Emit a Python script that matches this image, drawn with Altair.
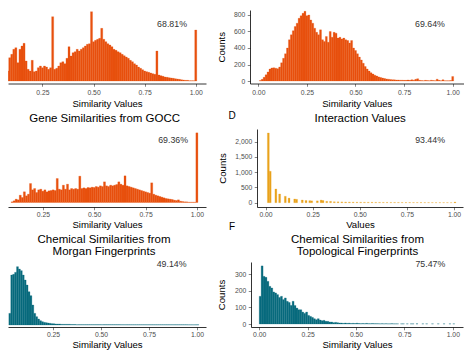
import altair as alt
import numpy as np
import pandas as pd

FONT = "Liberation Sans"
RED = "#E8500E"
GOLD = "#E9A21B"
TEAL = "#086B7D"
BIN = 0.01

# ---------------- values ----------------
# A, B, C: bins of width 0.01 centred on k/100, k = 0..100 (A and C: relative heights, axis cut off)
counts_a = [0, 0, 0, 0, 0, 3, 8, 12, 30, 70,
            80, 95, 100, 55, 95, 105, 113, 60, 35, 30,
            62, 28, 30, 40, 45, 40, 45, 42, 35, 40,
            193, 35, 38, 45, 55, 58, 52, 68, 103, 75,
            85, 88, 95, 90, 95, 100, 105, 110, 112, 208,
            118, 122, 125, 128, 158, 125, 118, 112, 108, 103,
            95, 92, 88, 85, 80, 76, 72, 68, 62, 58,
            52, 48, 42, 38, 34, 30, 28, 26, 24, 22,
            20, 90, 18, 16, 14, 12, 11, 10, 9, 8,
            7, 6, 5, 4, 3, 2, 2, 1, 1, 1,
            153]
counts_b = [0, 5, 20, 45, 75, 110, 145, 158, 160, 155,
            150, 170, 220, 275, 330, 400, 500, 560, 610, 660,
            700, 760, 790, 820, 845, 790, 800, 740, 700, 640,
            590, 560, 620, 500, 480, 540, 470, 600, 530, 590,
            580, 520, 530, 510, 520, 500, 490, 460, 490, 400,
            370, 330, 290, 255, 215, 175, 145, 120, 100, 85,
            70, 60, 50, 42, 35, 30, 25, 22, 18, 16,
            14, 12, 12, 10, 10, 8, 8, 12, 8, 15,
            10, 20, 28, 8, 5, 4, 8, 5, 4, 10,
            6, 4, 22, 8, 4, 15, 4, 3, 3, 5,
            55]
counts_c = [0, 0, 0, 0, 0, 0, 0, 0, 0, 0,
            2, 5, 10, 8, 22, 15, 32, 20, 25, 57,
            38, 42, 30, 38, 40, 34, 38, 32, 35, 36,
            38, 36, 72, 40, 38, 52, 40, 55, 38, 42,
            40, 42, 40, 79, 42, 44, 42, 45, 44, 46,
            45, 48, 46, 50, 48, 62, 50, 48, 52, 50,
            52, 54, 62, 55, 52, 80, 50, 48, 46, 44,
            42, 40, 38, 36, 34, 32, 30, 28, 59, 25,
            22, 20, 18, 16, 14, 12, 11, 10, 9, 7,
            6, 8, 4, 3, 2, 2, 1, 1, 1, 1,
            209]
# D, E, F: bins [k/100, (k+1)/100], k = 0..100 (E: relative heights)
counts_d = [0, 2285, 1030, 0, 0, 450, 0, 285, 0, 0,
            210, 0, 150, 0, 0, 121, 110, 0, 0, 88,
            0, 70, 0, 66, 60, 0, 0, 60, 0, 85,
            70, 0, 44, 0, 44, 0, 30, 0, 28, 0,
            25, 0, 22, 0, 20, 0, 18, 0, 16, 0,
            15, 0, 14, 0, 13, 0, 12, 0, 12, 0,
            11, 0, 10, 0, 10, 0, 9, 0, 9, 0,
            8, 0, 8, 0, 7, 0, 7, 0, 6, 0,
            6, 0, 6, 0, 5, 0, 5, 0, 5, 0,
            4, 0, 4, 0, 4, 0, 4, 0, 3, 0,
            20]
counts_e = [0, 0, 35, 150, 152, 158, 175, 168, 163, 150,
            135, 120, 100, 88, 60, 35, 25, 18, 13, 10,
            8, 7, 6, 5, 4, 4, 3, 3, 3, 2,
            2, 2, 2, 2, 1.5, 1.5, 1.5, 1, 1, 1,
            1, 1, 1, 1, 1, 1, 1, 1, 1, 1,
            1, 1, 1, 1, 1, 1, 1, 1, 1, 1,
            0.8, 0.8, 0.8, 0.8, 0.8, 0.8, 0.8, 0.8, 0.8, 0.8,
            0.8, 0.8, 0.8, 0.8, 0.8, 0.8, 0.8, 0.8, 0.8, 0.8,
            0.8, 0.8, 0.8, 0.8, 0.8, 0.8, 0.8, 0.8, 0.8, 0.8,
            0.8, 0.8, 0.8, 0.8, 0.8, 0.6, 0.6, 0.6, 0.6, 0.6,
            0.8]
counts_f = [167, 350, 287, 281, 257, 227, 217, 193, 187, 177,
            160, 167, 147, 157, 137, 130, 112, 137, 112, 96,
            86, 86, 72, 64, 72, 52, 46, 40, 32, 26,
            32, 24, 20, 22, 16, 16, 12, 12, 8, 10,
            8, 6, 6, 4, 6, 4, 5, 3, 4, 3,
            5, 3, 2, 3, 2, 4, 2, 2, 3, 2,
            2, 2, 1, 2, 1, 2, 1, 1, 2, 1,
            1, 1, 0, 1, 1, 0, 1, 0, 1, 1,
            0, 1, 0, 0, 1, 0, 1, 0, 0, 1,
            0, 0, 1, 0, 0, 1, 0, 0, 1, 0,
            1]

pct_labels = ["68.81%", "69.64%", "69.36%", "93.44%", "49.14%", "75.47%"]
titles = {
    "C": "Gene Similarities from GOCC",
    "D": "Interaction Values",
    "E": ["Chemical Similarities from", "Morgan Fingerprints"],
    "F": ["Chemical Similarities from", "Topological Fingerprints"],
}
ticks_full = [0.0, 0.25, 0.5, 0.75, 1.0]
ticks_cut = [0.25, 0.5, 0.75, 1.0]


def bars_df(counts, centred):
    k = np.arange(len(counts))
    if centred:
        lo, hi = k * BIN - BIN / 2, k * BIN + BIN / 2
    else:
        lo, hi = k * BIN, (k + 1) * BIN
    df = pd.DataFrame({"lo": lo, "hi": hi, "n": counts})
    return df[df["n"] > 0]


one = pd.DataFrame({"d": [0]})


def helper_rule(y1, y2):
    # invisible layout helper fixing the vertical extent of a row
    return alt.Chart(one).mark_rule(opacity=0).encode(
        x=alt.value(0), y=alt.value(y1), y2=alt.value(y2))


def label(text, x, y, size, lh=None, baseline="middle"):
    kw = dict(fontSize=size, font=FONT, color="black", align="center", baseline=baseline)
    if lh:
        kw["lineHeight"] = lh
    return alt.Chart(one).mark_text(**kw).encode(
        x=alt.value(x), y=alt.value(y), text=alt.value(text))


def panel(counts, centred, color, xdom, ydom, w, h, xticks, xtitle, pct, pct_xy,
          yaxis, extra, lab_pad, title_y):
    xaxis = alt.Axis(values=xticks, format=".2f", title=xtitle, titleY=title_y,
                     titleBaseline="middle", labelPadding=lab_pad)
    xs = alt.Scale(domain=xdom, nice=False, zero=False)
    ys = alt.Scale(domain=ydom, nice=False, zero=False)
    bars = alt.Chart(bars_df(counts, centred)).mark_rect(
        clip=True, color=color, stroke=color, strokeWidth=0.25
    ).encode(
        x=alt.X("lo:Q", scale=xs, axis=xaxis),
        x2="hi:Q",
        y=alt.Y("n:Q", scale=ys, axis=yaxis),
        y2=alt.datum(0),
    )
    txt = alt.Chart(pd.DataFrame({"lo": [pct_xy[0]], "n": [pct_xy[1]], "t": [pct]})).mark_text(
        fontSize=8.8, font=FONT, color="#333333", align="center", baseline="middle"
    ).encode(x=alt.X("lo:Q", scale=xs, axis=xaxis), y=alt.Y("n:Q", scale=ys, axis=yaxis),
             text="t:N")
    return alt.layer(bars, txt, *extra).properties(width=w, height=h)


def yaxis(values, fmt, title_x):
    return alt.Axis(values=values, format=fmt, title="Counts", titleX=title_x,
                    titleBaseline="middle", labelPadding=2.5)


# ---------------- row 1 ----------------
A = panel(counts_a, True, RED, [0.0815, 1.0501], [-7.5, 213], 198, 73.5, ticks_cut,
          "Similarity Values", pct_labels[0], (0.884, 171), None,
          [helper_rule(-2, 100)], 2.8, 19.5)
B = panel(counts_b, True, RED, [-0.0427, 1.0556], [-30.3, 860.6], 213.5, 73.5, ticks_full,
          "Similarity Values", pct_labels[1], (0.883, 691),
          yaxis([0, 200, 400, 600, 800], "d", -28.1), [], 2.8, 19.5)
# ---------------- row 2 ----------------
C = panel(counts_c, True, RED, [0.0803, 1.0443], [-13.5, 220.5], 198, 78, ticks_cut,
          "Similarity Values", pct_labels[2], (0.884, 189), None,
          [helper_rule(-19, 103), label(titles["C"], 96.7, -10, 11.5)], 1.8, 17)
D = panel(counts_d, False, GOLD, [-0.0451, 1.0477], [-141, 2416], 206, 78, ticks_full,
          "Values", pct_labels[3], (0.873, 2056),
          yaxis([0, 500, 1000, 1500, 2000], ",.0f", -34.1),
          [label(titles["D"], 103.2, -10, 11.5), label("D", -25, -13, 10),
           label("F", -25, 98, 10)], 1.8, 17)
# ---------------- row 3 ----------------
E = panel(counts_e, False, TEAL, [0.0156, 1.0469], [-6, 189], 198, 65, ticks_cut,
          "Similarity Values", pct_labels[4], (0.868, 182), None,
          [helper_rule(-30, 86), label(titles["E"], 96, -22, 11.5, 11.7)], 1.5, 17.5)
F = panel(counts_f, False, TEAL, [-0.0424, 1.0527], [-18, 373.5], 212, 65, ticks_full,
          "Similarity Values", pct_labels[5], (0.884, 360),
          yaxis([0, 100, 200, 300], "d", -29.8),
          [label(titles["F"], 106.5, -22, 11.5, 11.7)], 1.5, 17.5)

row1 = alt.hconcat(A, B, spacing=44, bounds="flush")
row2 = alt.hconcat(C, D, spacing=51, bounds="flush")
row3 = alt.hconcat(E, F, spacing=45, bounds="flush")

chart = alt.vconcat(row1, row2, row3, spacing=0).properties(
    padding={"left": 0, "top": 0, "right": 0, "bottom": 0}
).configure(font=FONT).configure_view(stroke=None).configure_axis(
    grid=False, labelFont=FONT, titleFont=FONT, labelFontSize=6.8, labelColor="#4d4d4d",
    titleFontSize=9.6, titleFontWeight="normal", titleColor="black", tickSize=2.75,
    tickColor="#333333", tickWidth=0.6, domainColor="black", domainWidth=0.8,
    labelFlush=False, labelOverlap=False,
)

chart.save("out.html", embed_options={"renderer": "svg", "actions": False})
